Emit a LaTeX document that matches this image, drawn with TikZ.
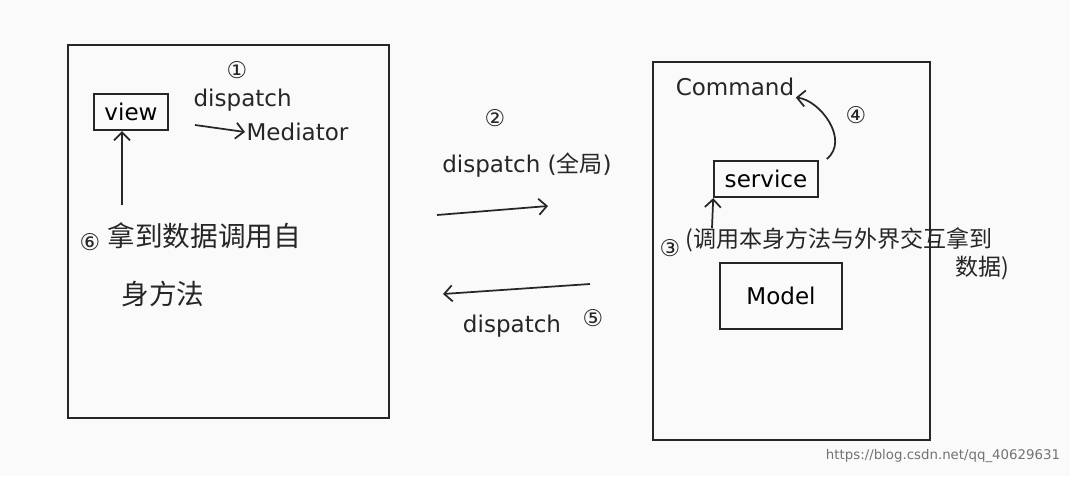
\documentclass[tikz,border=0pt]{standalone}
\usepackage{fontspec}
\setmainfont{DejaVu Sans}
\newfontfamily\cjk{Noto Sans CJK SC}
\usetikzlibrary{arrows.meta}
\begin{document}
\begin{tikzpicture}[x=0.75pt,y=-0.75pt,
  pen/.style={draw=black!85,line width=1.3pt},
  arr/.style={pen,-{Straight Barb[length=6pt]}},
  txt/.style={font=\LARGE,text=black!85,inner sep=1pt},
  ctxt/.style={font=\cjk\huge,text=black!85,inner sep=1pt},
  ctxts/.style={font=\cjk\LARGE,text=black!85,inner sep=1pt},
  num/.style={font=\LARGE,text=black!85,inner sep=0pt},
  boxn/.style={pen,font=\LARGE,inner xsep=8pt,inner ysep=7pt}]
\fill[white!96!gray] (0,0) rectangle (1070,476);
\useasboundingbox (0,0) rectangle (1070,476);
% left frame
\draw[pen] (68,45) rectangle (389,418);
\node[boxn] (view) at (131,112) {view};
\node[num] (n1) at (237,70) {①};
\node[txt,anchor=west] (disp1) at (192,100) {dispatch};
\node[txt,anchor=west] (med) at (245,132) {Mediator};
\coordinate (a1s) at (195,125);
\draw[arr] (a1s) -- (med.west);
\node[num] (n6) at (90,242) {⑥};
\node[ctxt,anchor=west] (t6a) at (106,236) {拿到数据调用自};
\node[ctxt,anchor=west] (t6b) at (120,294) {身方法};
\coordinate (up6) at (122,205);
\draw[arr] (up6) -- (view.south -| up6);
% middle
\node[num] (n2) at (495,118) {②};
\node[txt] (disp2) at (527,165) {dispatch ({\cjk 全局})};
\coordinate (m1s) at (437,215);
\coordinate (m1e) at (548,206);
\draw[arr] (m1s) -- (m1e);
\coordinate (m2s) at (590,284);
\coordinate (m2e) at (443,294);
\draw[arr] (m2s) -- (m2e);
\node[txt] (disp3) at (512,326) {dispatch};
\node[num] (n5) at (593,318) {⑤};
% right frame
\draw[pen] (653,62) rectangle (930,440);
\node[txt] (cmd) at (735,87) {Command};
\node[num] (n4) at (856,115) {④};
\node[boxn] (service) at (766,179) {service};
\draw[arr] (service.east) ++(8,-20) coordinate (cs) .. controls (850,140) and (820,100) .. (cmd.south east);
\node[num] (n3) at (670,248) {③};
\node[ctxts,anchor=west] (t3a) at (684,240) {(调用本身方法与外界交互拿到};
\node[ctxts] (t3b) at (982,268) {数据)};
\coordinate (up3) at (712,228);
\draw[arr] (up3) -- (service.south west);
\node[boxn,minimum width=92pt,minimum height=50pt] (model) at (781,296) {Model};
\node[font=\normalsize,text=black!55] (wm) at (943,456) {https://blog.csdn.net/qq\_40629631};
\end{tikzpicture}
\end{document}
